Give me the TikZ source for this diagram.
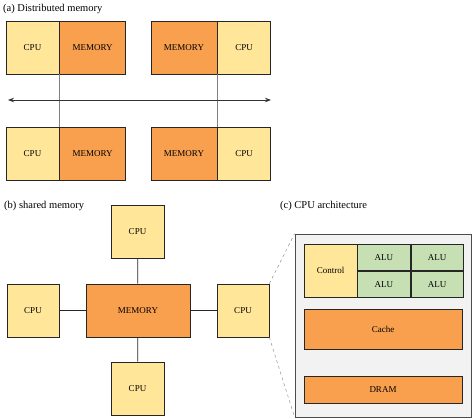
\documentclass[tikz,border=0pt]{standalone}
\usepackage{fontspec}
\setmainfont{Liberation Serif}
\usepackage{xcolor}
\usetikzlibrary{positioning, arrows.meta}
\definecolor{cpuyellow}{HTML}{FFE699}
\definecolor{memorange}{HTML}{F9A04F}
\definecolor{alugreen}{HTML}{C6E0B4}
\definecolor{archgray}{HTML}{F2F2F2}
\tikzstyle{cpu} = [rectangle, minimum width=53pt, minimum height=53pt, inner sep=0pt, text centered, draw=black!85, line width=0.7pt, fill=cpuyellow, font=\fontsize{9}{10}\selectfont]
\tikzstyle{mem} = [rectangle, minimum width=66pt, minimum height=53pt, inner sep=0pt, text centered, draw=black!85, line width=0.7pt, fill=memorange, font=\fontsize{9}{10}\selectfont]
\tikzstyle{alu} = [rectangle, minimum width=52.5pt, minimum height=26.5pt, inner sep=0pt, text centered, draw=black!85, line width=0.7pt, fill=alugreen, font=\fontsize{9}{10}\selectfont]
\tikzstyle{title} = [anchor=west, inner sep=0pt, font=\fontsize{10.5}{12}\selectfont]
\tikzstyle{link} = [black!85, line width=0.7pt]
\tikzstyle{arrow} = [black!80, line width=0.8pt, {Stealth[length=6pt, width=4.5pt]}-{Stealth[length=6pt, width=4.5pt]}]

\begin{document}
\begin{tikzpicture}[x=1pt, y=-1pt]
    \useasboundingbox (0,0) rectangle (474,420);

    % (a) distributed memory
    \node (titleA) [title] at (3,9) {(a) Distributed memory};
    \node (cpuA) [cpu] at (32.5,47.5) {CPU};
    \node (memA) [mem, right=0pt of cpuA] {MEMORY};
    \node (memB) [mem] at (184,47.5) {MEMORY};
    \node (cpuB) [cpu, right=0pt of memB] {CPU};
    \node (cpuC) [cpu] at (32.5,153.5) {CPU};
    \node (memC) [mem, right=0pt of cpuC] {MEMORY};
    \node (memD) [mem] at (184,153.5) {MEMORY};
    \node (cpuD) [cpu, right=0pt of memD] {CPU};
    \coordinate (busL) at (8,100);
    \coordinate (busR) at (271,100);
    \draw[gray, line width=0.9pt] (cpuA.south east)--(cpuC.north east);
    \draw[gray, line width=0.9pt] (memB.south east)--(memD.north east);
    \draw[arrow] (busL)--(busR);

    % (b) shared memory
    \node (titleB) [title] at (4,206) {(b) shared memory};
    \node (shmem) [mem, minimum width=104pt] at (138,310.5) {MEMORY};
    \node (cpuT) [cpu] at (137.5,231.5) {CPU};
    \node (cpuL) [cpu, minimum width=52pt] at (33,310.5) {CPU};
    \node (cpuR) [cpu, minimum width=52pt] at (243,310.5) {CPU};
    \node (cpuBt) [cpu] at (137.5,388.5) {CPU};
    \draw[link] (cpuT)--(shmem);
    \draw[link] (cpuL)--(shmem);
    \draw[link] (cpuR)--(shmem);
    \draw[link] (cpuBt)--(shmem);

    % (c) CPU architecture
    \node (titleC) [title] at (280,206) {(c) CPU architecture};
    \node (arch) [rectangle, minimum width=176pt, minimum height=183pt, draw=black!70, line width=0.7pt, fill=archgray] at (383,325.5) {};
    \node (control) [cpu] at (330.5,270.5) {Control};
    \node (alu1) [alu, anchor=north west] at (control.north east) {ALU};
    \node (alu2) [alu, anchor=north west] at (alu1.north east) {ALU};
    \node (alu3) [alu, anchor=north west] at (alu1.south west) {ALU};
    \node (alu4) [alu, anchor=north west] at (alu3.north east) {ALU};
    \node (cache) [mem, minimum width=158pt, minimum height=40pt] at (383,329) {Cache};
    \node (dram) [mem, minimum width=158pt, minimum height=27pt] at (383,389.5) {DRAM};
    \draw[gray, dashed, thin] (cpuR.north east)--(arch.north west);
    \draw[gray, dashed, thin] (cpuR.south east)--(arch.south west);

\end{tikzpicture}
\end{document}
